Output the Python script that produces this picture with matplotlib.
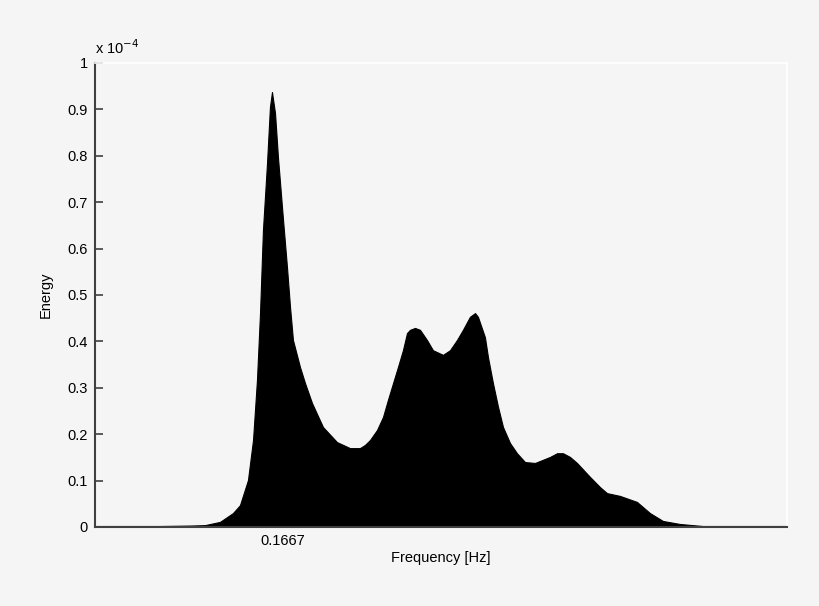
import matplotlib
matplotlib.use("Agg")
import matplotlib.pyplot as plt

# Power spectrum (energy in units of 1e-4)
freq = [0.0000, 0.0842, 0.0975, 0.1108, 0.1223, 0.1285, 0.1356, 0.1401, 0.1436,
        0.1463, 0.1489, 0.1525, 0.1551, 0.1569, 0.1596, 0.1622, 0.1667, 0.1702,
        0.1729, 0.1755, 0.1817, 0.1862, 0.1924, 0.2021, 0.2145, 0.2261, 0.2349,
        0.2394, 0.2438, 0.2500, 0.2553, 0.2597, 0.2642, 0.2686, 0.2730, 0.2766,
        0.2793, 0.2837, 0.2881, 0.2943, 0.2996, 0.3085, 0.3147, 0.3209, 0.3262,
        0.3324, 0.3369, 0.3395, 0.3457, 0.3484, 0.3528, 0.3573, 0.3617, 0.3679,
        0.3741, 0.3812, 0.3901, 0.4034, 0.4096, 0.4149, 0.4211, 0.4273, 0.4388,
        0.4477, 0.4539, 0.4654, 0.4805, 0.4920, 0.5035, 0.5186, 0.5390, 0.5541,
        0.6135]
energy = [0.000, 0.003, 0.004, 0.011, 0.030, 0.047, 0.101, 0.1875, 0.317,
          0.461, 0.640, 0.784, 0.905, 0.9375, 0.892, 0.797, 0.662, 0.560,
          0.474, 0.403, 0.345, 0.310, 0.267, 0.2155, 0.183, 0.170, 0.170,
          0.177, 0.1875, 0.209, 0.237, 0.274, 0.310, 0.345, 0.381, 0.418,
          0.425, 0.429, 0.425, 0.403, 0.381, 0.371, 0.381, 0.403, 0.425,
          0.453, 0.461, 0.453, 0.409, 0.366, 0.310, 0.259, 0.2155, 0.181,
          0.159, 0.140, 0.138, 0.151, 0.159, 0.159, 0.151, 0.138, 0.108,
          0.086, 0.073, 0.067, 0.054, 0.030, 0.013, 0.0065, 0.002, 0.000,
          0.000]
scale = 1e-4
energy_abs = [e * scale for e in energy]

xticks = [0.1667]
xticklabels = ["0.1667"]
yticks = [i / 10 * scale for i in range(11)]
yticklabels = ["0", "0.1", "0.2", "0.3", "0.4", "0.5", "0.6", "0.7", "0.8", "0.9", "1"]

plt.rcParams["font.family"] = ["Liberation Sans", "DejaVu Sans"]
bg = "#f5f5f5"
fs = 10.5

fig = plt.figure(figsize=(8.2, 6.06), dpi=100, facecolor=bg)
ax = fig.add_axes([95 / 820, 1 - 527 / 606, 692 / 820, 464 / 606], facecolor=bg)

ax.fill_between(freq, energy_abs, 0, color="black", linewidth=0.8, edgecolor="black")
ax.plot([freq[0], freq[-1]], [0, 0], color="black", linewidth=1.5)

ax.set_xlim(0, 0.6135)
ax.set_ylim(0, scale)
ax.set_xticks(xticks)
ax.set_xticklabels(xticklabels)
ax.set_yticks(yticks)
ax.set_yticklabels(yticklabels)
ax.tick_params(axis="y", direction="in", length=6, width=1.2, color="#404040",
               labelsize=fs, pad=5)
ax.tick_params(axis="x", direction="in", length=6, width=1.2, color="black",
               labelsize=fs, pad=5)

for side in ["top", "right"]:
    ax.spines[side].set_color("white")
    ax.spines[side].set_linewidth(1.2)
for side in ["left", "bottom"]:
    ax.spines[side].set_color("#404040")
    ax.spines[side].set_linewidth(1.5)

ax.set_xlabel("Frequency [Hz]", fontsize=fs, labelpad=2)
ax.set_ylabel("Energy", fontsize=fs, labelpad=11)
ax.text(0, 1.012, "x 10$^{-4}$", transform=ax.transAxes, fontsize=fs,
        ha="left", va="bottom")

fig.savefig("out.png", dpi=100, facecolor=bg)
